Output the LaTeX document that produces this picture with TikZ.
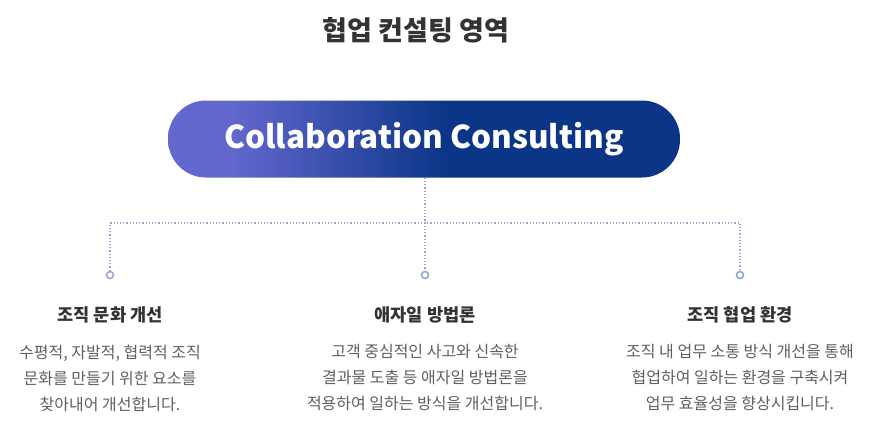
\documentclass[tikz,border=0pt]{standalone}
\usepackage{fontspec}
\setmainfont{Noto Sans CJK KR}
\usepackage{xcolor}
\definecolor{pillLight}{RGB}{99,104,206}
\definecolor{pillDark}{RGB}{11,54,136}
\definecolor{lineColor}{RGB}{150,166,206}
\definecolor{headColor}{RGB}{51,51,51}
\definecolor{bodyColor}{RGB}{95,95,95}
\pgfdeclarehorizontalshading{pillShade}{100bp}{color(0bp)=(pillLight); color(31bp)=(pillLight); color(52bp)=(pillDark); color(100bp)=(pillDark)}

\begin{document}
\begin{tikzpicture}[x=1pt, y=-1pt,
    link/.style={draw=lineColor, line width=1.2pt, dotted},
    dot/.style={circle, draw=lineColor, fill=white, line width=1.6pt, minimum size=7pt, inner sep=0pt},
    head/.style={text=headColor, font=\bfseries\fontsize{17.6}{20}\selectfont},
    body/.style={text=bodyColor, align=center, font=\fontsize{16}{26}\selectfont}]
                \useasboundingbox (0,0) rectangle (881,440);
                \node[text=headColor, font=\bfseries\fontsize{27}{30}\selectfont] (title) at (416,30) {협업 컨설팅 영역};
                \node[shade, shading=pillShade, rounded corners=38pt, minimum width=512pt, minimum height=77pt, text=white, font=\bfseries\fontsize{31.5}{36}\selectfont] (pill) at (424,139) {Collaboration Consulting};
                \coordinate (bar) at (425,223);
                \node[dot] (dotA) at (110,275) {};
                \node[dot] (dotB) at (425,275) {};
                \node[dot] (dotC) at (740,275) {};
                \draw[link] (pill.south -| bar) -- (dotB);
                \draw[link] (dotA) |- (bar) -| (dotC);
                \node[head] (headA) at (110,315) {조직 문화 개선};
                \node[head] (headB) at (425,315) {애자일 방법론};
                \node[head] (headC) at (740,315) {조직 협업 환경};
                \node[body] (bodyA) at (110,378) {수평적, 자발적, 협력적 조직\\문화를 만들기 위한 요소를\\찾아내어 개선합니다.};
                \node[body] (bodyB) at (425,378) {고객 중심적인 사고와 신속한\\결과물 도출 등 애자일 방법론을\\적용하여 일하는 방식을 개선합니다.};
                \node[body] (bodyC) at (740,378) {조직 내 업무 소통 방식 개선을 통해\\협업하여 일하는 환경을 구축시켜\\업무 효율성을 향상시킵니다.};
            \end{tikzpicture}
\end{document}
